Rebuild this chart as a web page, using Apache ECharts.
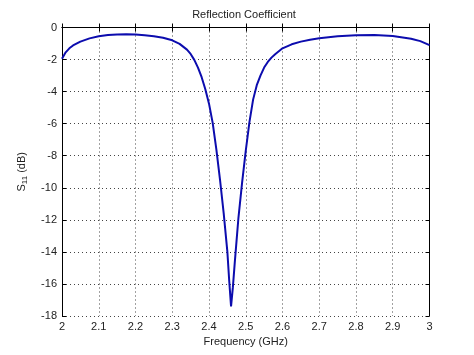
<!DOCTYPE html>
<html>
<head>
<meta charset="utf-8">
<script src="https://cdn.jsdelivr.net/npm/echarts@6/dist/echarts.min.js"></script>
<style>
html,body{margin:0;padding:0;background:#fff;}
#c{width:474px;height:355px;}
</style>
</head>
<body>
<div id="c"></div>
<script>
var freq = [2.0,2.01,2.02,2.03,2.05,2.075,2.1,2.125,2.15,2.175,2.2,2.225,2.25,2.275,2.3,2.32,2.34,2.35,2.36,2.37,2.38,2.39,2.40,2.41,2.42,2.43,2.44,2.45,2.455,2.46,2.465,2.47,2.475,2.48,2.49,2.50,2.51,2.52,2.53,2.54,2.55,2.56,2.57,2.58,2.6,2.625,2.65,2.675,2.7,2.75,2.8,2.85,2.9,2.95,2.975,3.0];
var s11 = [-1.95,-1.55,-1.3,-1.12,-0.88,-0.68,-0.55,-0.47,-0.43,-0.42,-0.44,-0.48,-0.54,-0.64,-0.8,-1.02,-1.38,-1.65,-2.02,-2.5,-3.1,-3.85,-4.75,-5.95,-7.6,-9.5,-11.6,-14.0,-15.8,-17.4,-16.2,-14.7,-13.3,-11.9,-9.7,-7.7,-5.9,-4.5,-3.6,-3.0,-2.5,-2.15,-1.88,-1.67,-1.3,-1.05,-0.88,-0.76,-0.67,-0.55,-0.48,-0.47,-0.53,-0.7,-0.85,-1.1];
var titleText = 'Reflection Coefficient';
var xName = 'Frequency (GHz)';

var data = freq.map(function(f, i){ return [f, s11[i]]; });
var font = 'Liberation Sans';
var chart = echarts.init(document.getElementById('c'));
var fmt = function(v){ return String(Math.round(v*10)/10); };
var tick = {show:true, inside:true, length:4, lineStyle:{color:'#000', width:1}};
var line = {show:true, lineStyle:{color:'#000', width:1}};
chart.setOption({
  animation:false,
  backgroundColor:'#fff',
  graphic:[{type:'text', x:244, y:9, style:{text:titleText, textAlign:'center', font:'11px "Liberation Sans"', fill:'#222'}}],
  grid:{left:62, right:44.5, top:27.5, bottom:39},
  xAxis:[{
    type:'value', min:2, max:3, interval:0.1, position:'bottom',
    name:xName, nameLocation:'middle', nameGap:19,
    nameTextStyle:{fontFamily:font, fontSize:11, color:'#222'},
    axisLine:line, axisTick:tick,
    axisLabel:{formatter:fmt, fontFamily:font, fontSize:11, color:'#222', margin:5},
    splitLine:{show:true, lineStyle:{type:[1,3], color:'#444', width:1}}
  },{
    type:'value', min:2, max:3, interval:0.1, position:'top',
    axisLine:line, axisTick:tick, axisLabel:{show:false}, splitLine:{show:false}
  }],
  yAxis:[{
    type:'value', min:-18, max:0, interval:2, position:'left',
    name:'{a|S}{b|11}{a| (dB)}', nameLocation:'middle', nameGap:33, nameRotate:90,
    nameTextStyle:{rich:{a:{fontFamily:font, fontSize:11, color:'#222'}, b:{fontFamily:font, fontSize:8, color:'#222', padding:[6,0,0,0]}}},
    axisLine:line, axisTick:tick,
    axisLabel:{fontFamily:font, fontSize:11, color:'#222', margin:5},
    splitLine:{show:true, lineStyle:{type:[1,3], color:'#444', width:1}}
  },{
    type:'value', min:-18, max:0, interval:2, position:'right',
    axisLine:line, axisTick:tick, axisLabel:{show:false}, splitLine:{show:false}
  }],
  series:[{
    type:'line', data:data, xAxisIndex:0, yAxisIndex:0,
    showSymbol:false, smooth:false,
    lineStyle:{color:'#0c0cae', width:2}
  }]
});
</script>
</body>
</html>
